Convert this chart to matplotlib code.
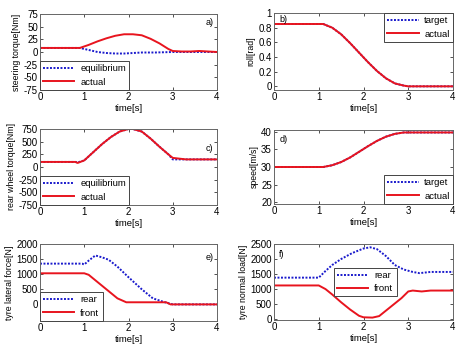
import matplotlib
matplotlib.use("Agg")
import matplotlib.pyplot as plt

# ---- data ----
t_a = [0, 0.9, 1.1, 1.3, 1.5, 1.7, 1.9, 2.1, 2.3, 2.5, 2.7, 2.9, 3.0, 3.2, 3.4, 3.6, 3.8, 4.0]
a_actual = [8, 8, 14, 21, 27, 32, 35, 35, 33, 26, 17, 6, 2, 1, 1, 2, 1, 0]
t_a_eq = [0, 0.9, 1.1, 1.3, 1.5, 1.7, 1.9, 2.1, 2.3, 2.6, 3.0, 3.5, 4.0]
a_equil = [8, 8, 4, 0, -2, -3, -3, -2, -1, -1, 0, 0, 0]

t_b = [0, 1.1, 1.3, 1.5, 1.7, 1.9, 2.1, 2.3, 2.5, 2.7, 2.9, 3.0, 4.0]
b_actual = [0.85, 0.85, 0.80, 0.71, 0.59, 0.46, 0.33, 0.21, 0.11, 0.04, 0.01, 0.0, 0.0]
b_target = [0.85, 0.85, 0.80, 0.71, 0.59, 0.46, 0.33, 0.21, 0.11, 0.04, 0.01, 0.0, 0.0]

t_c = [0, 0.8, 0.85, 1.0, 1.2, 1.4, 1.6, 1.8, 2.0, 2.1, 2.3, 2.5, 2.7, 2.9, 3.0, 3.3, 4.0]
c_actual = [100, 100, 80, 130, 290, 450, 590, 700, 750, 750, 700, 560, 400, 250, 180, 150, 150]
c_equil = [100, 100, 90, 130, 290, 450, 590, 700, 750, 750, 700, 560, 400, 250, 150, 150, 150]

t_d = [0, 1.1, 1.3, 1.5, 1.7, 1.9, 2.1, 2.3, 2.5, 2.7, 2.9, 3.0, 4.0]
d_actual = [30, 30, 30.5, 31.4, 32.7, 34.3, 35.9, 37.4, 38.6, 39.4, 39.8, 39.8, 39.8]
d_target = [30, 30, 30.5, 31.4, 32.7, 34.3, 35.9, 37.4, 38.6, 39.4, 39.8, 39.8, 39.8]

t_e_rear = [0, 0.95, 1.0, 1.1, 1.25, 1.4, 1.55, 1.75, 2.0, 2.3, 2.55, 2.8, 3.0, 4.0]
e_rear = [1350, 1350, 1320, 1450, 1620, 1560, 1480, 1250, 900, 500, 200, 80, 0, 0]
t_e_front = [0, 1.0, 1.1, 1.25, 1.5, 1.75, 1.95, 2.85, 2.95, 4.0]
e_front = [1030, 1030, 980, 800, 500, 200, 70, 70, 0, 0]

t_f_rear = [0, 1.0, 1.15, 1.3, 1.5, 1.75, 2.0, 2.15, 2.3, 2.5, 2.7, 2.9, 3.1, 3.25, 3.5, 4.0]
f_rear = [1380, 1380, 1600, 1800, 2000, 2200, 2350, 2390, 2330, 2100, 1800, 1650, 1570, 1530, 1570, 1570]
t_f_front = [0, 1.0, 1.15, 1.3, 1.5, 1.7, 1.9, 2.0, 2.2, 2.35, 2.6, 2.85, 3.0, 3.1, 3.3, 3.5, 4.0]
f_front = [1120, 1120, 1000, 820, 560, 320, 110, 60, 50, 100, 400, 700, 920, 950, 920, 950, 950]

# ---- figure ----
plt.rcParams['font.family'] = ['Liberation Sans', 'DejaVu Sans']
plt.rcParams['font.size'] = 6.5
plt.rcParams['axes.unicode_minus'] = False
fig = plt.figure(figsize=(4.74, 3.54), dpi=100)
W, H = 474, 354

def make_ax(l, r, t, b):
    return fig.add_axes([l / W, 1 - b / H, (r - l) / W, (b - t) / H])

BLUE = '#1a1acc'
RED = '#e8141e'
DOT = (0, (1.0, 0.8))

def style(ax, ylabel):
    ax.set_xlim(0, 4)
    ax.set_xticks([0, 1, 2, 3, 4])
    ax.tick_params(direction='in', top=True, right=True, length=2.5, width=0.6,
                   labelsize=7, pad=1.5, color='#333333')
    ax.set_xlabel('time[s]', labelpad=1.5, fontsize=6.8)
    ax.set_ylabel(ylabel, labelpad=2, fontsize=6.3)
    for s in ax.spines.values():
        s.set_color('#666666')
        s.set_linewidth(0.7)

def leg(ax, names, **kw):
    lg = ax.legend(names, fancybox=False, framealpha=1, edgecolor='#444444',
                   handlelength=3.3, handletextpad=0.6, borderpad=0.35,
                   labelspacing=0.45, fontsize=6.8, **kw)
    lg.get_frame().set_linewidth(0.7)
    return lg

# a
ax = make_ax(40, 217, 14, 90)
ax.plot(t_a_eq, a_equil, linestyle=DOT, color=BLUE, lw=1.4)
ax.plot(t_a, a_actual, '-', color=RED, lw=1.4)
ax.set_ylim(-75, 75)
ax.set_yticks([-75, -50, -25, 0, 25, 50, 75])
style(ax, 'steering torque[Nm]')
ax.text(0.98, 0.95, 'a)', transform=ax.transAxes, ha='right', va='top')
leg(ax, ['equilibrium', 'actual'], loc='lower left', borderaxespad=0)

# b
ax = make_ax(274, 453, 13, 90)
ax.plot(t_b, b_target, linestyle=DOT, color=BLUE, lw=1.4)
ax.plot(t_b, b_actual, '-', color=RED, lw=1.4)
ax.set_ylim(-0.05, 1.0)
ax.set_yticks([0, 0.2, 0.4, 0.6, 0.8, 1])
ax.set_yticklabels(['0', '0.2', '0.4', '0.6', '0.8', '1'])
style(ax, 'roll[rad]')
ax.text(0.03, 0.98, 'b)', transform=ax.transAxes, ha='left', va='top')
leg(ax, ['target', 'actual'], loc='upper right', borderaxespad=0)

# c
ax = make_ax(40, 217, 129, 205)
ax.plot(t_c, c_equil, linestyle=DOT, color=BLUE, lw=1.4)
ax.plot(t_c, c_actual, '-', color=RED, lw=1.4)
ax.set_ylim(-750, 750)
ax.set_yticks([-750, -500, -250, 0, 250, 500, 750])
style(ax, 'rear wheel torque[Nm]')
ax.text(0.98, 0.8, 'c)', transform=ax.transAxes, ha='right', va='top')
leg(ax, ['equilibrium', 'actual'], loc='lower left', borderaxespad=0)

# d
ax = make_ax(274, 453, 130, 204)
ax.plot(t_d, d_target, linestyle=DOT, color=BLUE, lw=1.4)
ax.plot(t_d, d_actual, '-', color=RED, lw=1.4)
ax.set_ylim(19.5, 40.5)
ax.set_yticks([20, 25, 30, 35, 40])
style(ax, 'speed[m/s]')
ax.text(0.03, 0.93, 'd)', transform=ax.transAxes, ha='left', va='top')
leg(ax, ['target', 'actual'], loc='lower right', borderaxespad=0)

# e
ax = make_ax(40, 217, 244, 321)
ax.plot(t_e_rear, e_rear, linestyle=DOT, color=BLUE, lw=1.4)
ax.plot(t_e_front, e_front, '-', color=RED, lw=1.4)
ax.set_ylim(-550, 2000)
ax.set_yticks([0, 500, 1000, 1500, 2000])
style(ax, 'tyre lateral force[N]')
ax.text(0.98, 0.88, 'e)', transform=ax.transAxes, ha='right', va='top')
leg(ax, ['rear', 'front'], loc='lower left', borderaxespad=0)

# f
ax = make_ax(274, 453, 244, 320)
ax.plot(t_f_rear, f_rear, linestyle=DOT, color=BLUE, lw=1.4)
ax.plot(t_f_front, f_front, '-', color=RED, lw=1.4)
ax.set_ylim(-30, 2500)
ax.set_yticks([0, 500, 1000, 1500, 2000, 2500])
style(ax, 'tyre normal load[N]')
ax.text(0.03, 0.92, 'f)', transform=ax.transAxes, ha='left', va='top')
leg(ax, ['rear', 'front'], loc='center', bbox_to_anchor=(0.51, 0.5))

fig.savefig('out.png', dpi=100)
